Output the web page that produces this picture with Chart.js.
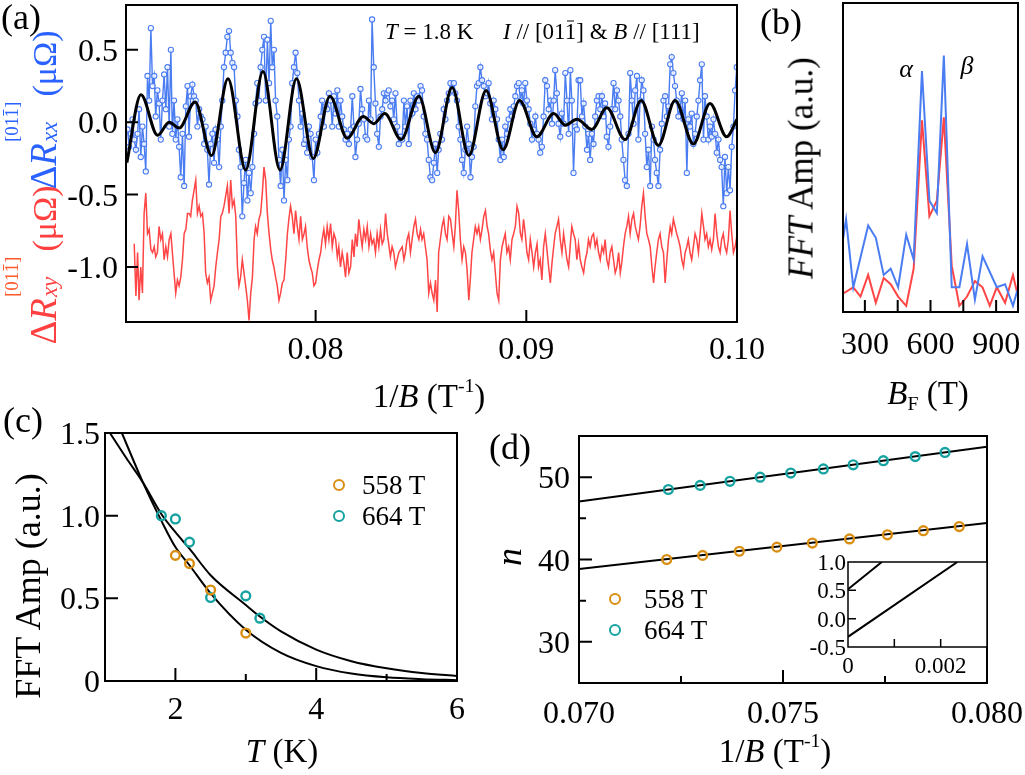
<!DOCTYPE html>
<html>
<head>
<meta charset="utf-8">
<script src="https://cdn.jsdelivr.net/npm/chart.js@4.4.1/dist/chart.umd.min.js"></script>
<style>
body{margin:0;background:#fff;}
#page{position:relative;width:1025px;height:775px;overflow:hidden;font-family:"Liberation Serif","Times New Roman",serif;}
#page canvas{position:absolute;left:0;top:0;}
.t{position:absolute;white-space:nowrap;line-height:1;transform:translate(-50%,-50%);color:#000;}
.l{position:absolute;white-space:nowrap;line-height:1;transform:translateY(-50%);color:#000;}
.tk{position:absolute;white-space:nowrap;line-height:1;color:#000;}
.r{transform:translate(-50%,-50%) rotate(-90deg);}
.sup{font-size:.6em;position:relative;top:-.75em;}
.sub{font-size:.6em;position:relative;top:.3em;}
.ob{position:relative;}
.ob::after{content:"";position:absolute;left:.08em;right:.08em;top:.1em;border-top:1.5px solid currentColor;}
.stk{display:inline-block;position:relative;width:38px;height:34px;}
.stk span.s1{position:absolute;left:1px;top:-20px;font-size:19px;line-height:1;}
.stk span.s2{position:absolute;left:1px;top:16px;font-size:23px;line-height:1;}
.dot{position:absolute;width:12px;height:12px;border-radius:50%;box-sizing:border-box;transform:translate(-50%,-50%);}
</style>
</head>
<body>
<div id="page">
<canvas id="cA" width="1025" height="775"></canvas>
<canvas id="cB" width="1025" height="775"></canvas>
<canvas id="cC" width="1025" height="775"></canvas>
<canvas id="cD" width="1025" height="775"></canvas>
<canvas id="cI" width="1025" height="775"></canvas>

<div class="t" style="left:21px;top:17px;font-size:36px">(a)</div>
<div class="l" style="left:385px;top:31px;font-size:23px"><i>T</i> = 1.8 K</div>
<div class="l" style="left:503px;top:31px;font-size:23px"><i>I</i> // [01<span class="ob">1</span>] &amp; <i>B</i> // [111]</div>
<div class="t r" style="left:42px;top:110px;font-size:34px;color:#2a62ff"><span style="font-size:37px">&Delta;<i>R</i></span><span class="stk"><span class="s1">[01<span class="ob">1</span>]</span><span class="s2"><i>xx</i></span></span> (&mu;&Omega;)</div>
<div class="t r" style="left:42px;top:265px;font-size:34px;color:#ff4040"><span style="font-size:37px">&Delta;<i>R</i></span><span class="stk"><span class="s1" style="color:#ff5a2a">[01<span class="ob">1</span>]</span><span class="s2"><i>xy</i></span></span> (&mu;&Omega;)</div>
<div class="t" style="left:429px;top:396px;font-size:33px">1/<i>B</i> (T<span class="sup">-1</span>)</div>

<div class="t" style="left:781px;top:22px;font-size:36px">(b)</div>
<div class="t r" style="left:801px;top:168px;font-size:35px"><i>FFT</i> Amp (a.u.)</div>
<div class="t" style="left:906px;top:69px;font-size:26px"><i>&alpha;</i></div>
<div class="t" style="left:967px;top:66px;font-size:26px"><i>&beta;</i></div>
<div class="t" style="left:928px;top:393px;font-size:33px"><i>B</i><span class="sub">F</span> (T)</div>

<div class="t" style="left:23px;top:420px;font-size:36px">(c)</div>
<div class="t r" style="left:28px;top:586px;font-size:36px">FFT Amp (a.u.)</div>
<div class="t" style="left:282px;top:751px;font-size:33px"><i>T</i> (K)</div>
<div class="dot" style="left:339px;top:485px;border:2.4px solid #d98e12"></div>
<div class="dot" style="left:339px;top:516px;border:2.4px solid #17a2a2"></div>
<div class="l" style="left:362px;top:485px;font-size:27px">558 T</div>
<div class="l" style="left:362px;top:516px;font-size:27px">664 T</div>

<div class="t" style="left:510px;top:447px;font-size:36px">(d)</div>
<div class="t r" style="left:509px;top:557px;font-size:36px"><i>n</i></div>
<div class="t" style="left:775px;top:751px;font-size:33px">1/<i>B</i> (T<span class="sup">-1</span>)</div>
<div class="dot" style="left:615px;top:599px;border:2.4px solid #d98e12"></div>
<div class="dot" style="left:615px;top:630px;border:2.4px solid #17a2a2"></div>
<div class="l" style="left:644px;top:599px;font-size:27px">558 T</div>
<div class="l" style="left:644px;top:630px;font-size:27px">664 T</div>
</div>

<script>
'use strict';

// (a) oscillations vs 1/B, shared x grid for both traces
const invB = [
0.07107,0.07115,0.07123,0.07131,0.07139,0.07147,0.07155,0.07162,0.07170,0.07178,
0.07186,0.07194,0.07202,0.07210,0.07218,0.07226,0.07234,0.07241,0.07249,0.07257,
0.07265,0.07273,0.07281,0.07289,0.07297,0.07305,0.07313,0.07320,0.07328,0.07336,
0.07344,0.07352,0.07360,0.07368,0.07376,0.07384,0.07392,0.07399,0.07407,0.07415,
0.07423,0.07431,0.07439,0.07447,0.07455,0.07463,0.07471,0.07478,0.07486,0.07494,
0.07502,0.07510,0.07518,0.07526,0.07534,0.07542,0.07550,0.07557,0.07565,0.07573,
0.07581,0.07589,0.07597,0.07605,0.07613,0.07621,0.07629,0.07636,0.07644,0.07652,
0.07660,0.07668,0.07676,0.07684,0.07692,0.07700,0.07708,0.07715,0.07723,0.07731,
0.07739,0.07747,0.07755,0.07763,0.07771,0.07779,0.07787,0.07794,0.07802,0.07810,
0.07818,0.07826,0.07834,0.07842,0.07850,0.07858,0.07866,0.07873,0.07881,0.07889,
0.07897,0.07905,0.07913,0.07921,0.07929,0.07937,0.07945,0.07952,0.07960,0.07968,
0.07976,0.07984,0.07992,0.08000,0.08008,0.08016,0.08024,0.08031,0.08039,0.08047,
0.08055,0.08063,0.08071,0.08079,0.08087,0.08095,0.08103,0.08110,0.08118,0.08126,
0.08134,0.08142,0.08150,0.08158,0.08166,0.08174,0.08182,0.08189,0.08197,0.08205,
0.08213,0.08221,0.08229,0.08237,0.08245,0.08253,0.08261,0.08268,0.08276,0.08284,
0.08292,0.08300,0.08308,0.08316,0.08324,0.08332,0.08340,0.08347,0.08355,0.08363,
0.08371,0.08379,0.08387,0.08395,0.08403,0.08411,0.08419,0.08426,0.08434,0.08442,
0.08450,0.08458,0.08466,0.08474,0.08482,0.08490,0.08498,0.08505,0.08513,0.08521,
0.08529,0.08537,0.08545,0.08553,0.08561,0.08569,0.08577,0.08584,0.08592,0.08600,
0.08608,0.08616,0.08624,0.08632,0.08640,0.08648,0.08656,0.08663,0.08671,0.08679,
0.08687,0.08695,0.08703,0.08711,0.08719,0.08727,0.08735,0.08742,0.08750,0.08758,
0.08766,0.08774,0.08782,0.08790,0.08798,0.08806,0.08814,0.08821,0.08829,0.08837,
0.08845,0.08853,0.08861,0.08869,0.08877,0.08885,0.08893,0.08900,0.08908,0.08916,
0.08924,0.08932,0.08940,0.08948,0.08956,0.08964,0.08972,0.08979,0.08987,0.08995,
0.09003,0.09011,0.09019,0.09027,0.09035,0.09043,0.09051,0.09058,0.09066,0.09074,
0.09082,0.09090,0.09098,0.09106,0.09114,0.09122,0.09130,0.09137,0.09145,0.09153,
0.09161,0.09169,0.09177,0.09185,0.09193,0.09201,0.09209,0.09216,0.09224,0.09232,
0.09240,0.09248,0.09256,0.09264,0.09272,0.09280,0.09288,0.09295,0.09303,0.09311,
0.09319,0.09327,0.09335,0.09343,0.09351,0.09359,0.09367,0.09374,0.09382,0.09390,
0.09398,0.09406,0.09414,0.09422,0.09430,0.09438,0.09446,0.09453,0.09461,0.09469,
0.09477,0.09485,0.09493,0.09501,0.09509,0.09517,0.09525,0.09532,0.09540,0.09548,
0.09556,0.09564,0.09572,0.09580,0.09588,0.09596,0.09604,0.09611,0.09619,0.09627,
0.09635,0.09643,0.09651,0.09659,0.09667,0.09675,0.09683,0.09690,0.09698,0.09706,
0.09714,0.09722,0.09730,0.09738,0.09746,0.09754,0.09762,0.09769,0.09777,0.09785,
0.09793,0.09801,0.09809,0.09817,0.09825,0.09833,0.09841,0.09848,0.09856,0.09864,
0.09872,0.09880,0.09888,0.09896,0.09904,0.09912,0.09920,0.09927,0.09935,0.09943,
0.09951,0.09959,0.09967,0.09975,0.09983,0.09991,0.09999];

const dRxx = [
-0.05,-0.17,-0.08,0.02,-0.12,-0.19,-0.08,0.09,-0.24,-0.03,
-0.15,-0.34,0.32,0.15,0.65,0.25,0.32,0.04,0.22,0.13,
-0.12,0.15,0.33,0.09,0.38,-0.03,0.50,-0.08,0.15,-0.12,
0.02,-0.17,-0.38,-0.08,-0.44,0.11,0.25,-0.10,0.18,0.26,
0.18,0.15,-0.03,0.09,0.04,0.02,-0.15,-0.03,-0.19,-0.43,
-0.15,-0.08,-0.28,-0.05,-0.12,-0.31,-0.03,0.15,0.38,0.48,
0.59,0.63,0.48,0.41,0.38,0.15,0.04,-0.19,-0.31,-0.65,
-0.42,-0.26,-0.54,-0.35,-0.49,-0.31,-0.08,0.13,0.27,0.15,
0.38,0.50,0.59,0.15,0.57,0.27,0.70,0.38,0.50,0.15,
0.04,-0.26,-0.44,-0.19,-0.54,-0.26,-0.40,-0.12,-0.03,0.27,
0.38,0.48,0.34,0.15,-0.03,0.06,-0.15,-0.12,-0.21,-0.03,
-0.08,-0.24,-0.40,-0.12,-0.21,-0.08,0.04,0.15,-0.03,0.11,
0.09,0.20,0.15,-0.03,0.18,0.06,0.22,-0.03,0.15,0.04,
-0.05,-0.12,-0.08,-0.15,-0.05,0.18,-0.03,-0.24,-0.12,-0.01,
0.23,0.09,0.02,-0.10,-0.12,0.15,0.02,0.71,0.38,0.13,
-0.08,-0.17,0.04,0.09,0.20,0.15,0.20,0.22,0.11,0.15,
0.02,0.20,-0.03,-0.15,-0.10,-0.12,0.15,-0.03,0.11,-0.15,
0.15,0.06,0.20,0.09,0.18,0.15,0.25,0.22,0.04,-0.08,
-0.12,-0.26,-0.38,-0.40,-0.28,-0.15,-0.35,-0.19,-0.08,-0.12,
0.09,0.02,0.15,0.20,0.27,0.22,0.27,0.20,0.15,-0.03,
-0.12,-0.26,-0.35,-0.19,-0.03,-0.15,-0.38,-0.24,-0.17,0.11,
0.25,0.27,0.38,0.29,0.25,0.18,0.20,0.27,0.13,0.02,
0.15,0.09,0.02,-0.12,-0.26,-0.12,-0.24,-0.03,-0.08,0.02,
0.09,0.04,0.11,0.18,0.25,0.27,0.15,0.22,0.13,0.27,
0.15,0.09,-0.01,-0.12,-0.05,0.04,-0.08,-0.12,-0.21,-0.17,
0.04,0.29,0.25,0.09,0.15,-0.01,0.15,0.36,0.20,-0.01,
-0.10,0.06,-0.01,0.34,0.15,-0.08,0.36,0.15,-0.35,-0.03,
-0.05,0.29,0.29,0.04,0.13,-0.03,-0.19,-0.08,-0.26,-0.08,
-0.15,0.04,0.15,0.18,0.09,0.18,0.04,0.13,-0.10,-0.17,
-0.03,0.09,0.27,0.09,0.22,0.15,0.04,-0.12,-0.26,-0.40,
-0.44,-0.08,0.34,0.15,-0.01,0.22,0.32,-0.12,0.15,0.29,
0.22,-0.08,-0.31,-0.19,-0.44,-0.03,-0.12,-0.26,-0.35,-0.44,
-0.19,-0.01,0.15,0.18,0.04,0.11,0.40,0.45,0.34,0.25,
0.15,0.04,0.09,0.20,0.02,0.15,-0.35,0.02,-0.03,0.06,
-0.15,-0.08,0.04,0.15,0.29,0.40,-0.12,0.18,0.04,-0.12,
-0.03,-0.10,0.02,-0.08,-0.21,-0.12,-0.26,-0.31,-0.58,-0.24,
-0.49,-0.31,-0.47,-0.17,-0.03,0.22,0.38];

const dRxy = [
null,null,null,null,-0.84,-1.20,-0.90,-1.23,-1.00,-1.18,
-0.63,-0.49,-0.77,-0.74,-0.88,-0.90,-0.86,-0.93,-0.90,-0.72,
-0.81,-0.77,-0.95,-0.86,-0.93,-0.81,-0.77,-0.90,-1.04,-1.18,
-1.09,-1.13,-1.07,-0.95,-0.77,-0.74,-0.63,-0.63,-0.65,-0.54,
-0.47,-0.40,-0.63,-0.58,-0.65,-0.63,-0.77,-1.04,-1.11,-1.07,
-1.23,-1.18,-1.13,-1.00,-0.90,-0.81,-0.65,-0.63,-0.58,-0.51,
-0.44,-0.63,-0.40,-0.58,-0.54,-0.65,-1.00,-1.13,-1.07,-0.95,
-1.04,-1.13,-1.23,-1.37,-1.18,-1.07,-0.81,-0.72,-0.77,-0.67,
-0.63,-0.49,-0.31,-0.40,-0.63,-0.77,-0.88,-0.95,-1.00,-1.07,
-1.13,-1.23,-1.18,-1.11,-1.09,-0.95,-0.77,-0.67,-0.58,-0.65,
-0.77,-0.61,-0.72,-0.81,-0.65,-0.81,-0.77,-0.72,-0.86,-0.95,
-1.00,-1.04,-1.13,-1.11,-1.02,-0.95,-0.90,-0.81,-0.74,-0.84,
-0.72,-0.81,-0.70,-0.86,-0.77,-0.81,-0.93,-0.86,-1.00,-0.90,
-0.97,-1.07,-0.90,-1.04,-1.00,-0.81,-0.93,-0.77,-0.86,-0.67,
-0.77,-0.86,-0.74,-0.81,-0.72,-0.86,-0.77,-0.84,-0.81,-0.90,
-0.77,-0.86,-0.74,-0.84,-0.81,-0.63,-0.77,-0.84,-0.93,-0.86,
-0.90,-1.00,-0.95,-0.90,-0.88,-0.86,-0.95,-0.90,-0.81,-0.77,
-0.90,-0.81,-0.72,-0.67,-0.77,-0.81,-0.74,-0.81,-0.77,-0.86,
-0.95,-1.18,-1.11,-1.18,-1.23,-1.09,-1.31,-0.90,-0.81,-0.72,
-0.67,-0.77,-0.81,-0.65,-0.67,-0.77,-0.86,-0.72,-0.47,-0.61,
-0.81,-0.95,-0.86,-0.90,-1.02,-1.23,-1.07,-0.90,-0.81,-0.72,
-0.77,-0.72,-0.81,-0.74,-0.65,-0.61,-0.72,-0.77,-0.88,-0.95,
-0.90,-1.04,-1.18,-1.23,-0.95,-0.86,-0.81,-0.77,-0.90,-0.86,
-0.95,-0.81,-0.77,-0.72,-0.58,-0.63,-0.77,-0.81,-0.67,-0.77,
-0.90,-0.95,-0.81,-0.90,-1.00,-0.90,-0.84,-1.00,-0.95,-1.09,
-0.86,-0.77,-0.88,-1.00,-1.11,-0.97,-0.86,-0.77,-0.72,-0.67,
-0.81,-0.90,-0.77,-0.86,-0.95,-1.00,-0.84,-0.72,-0.77,-0.81,
-0.95,-0.84,-0.95,-1.00,-1.04,-0.95,-0.90,-0.81,-0.86,-0.79,
-0.77,-0.86,-0.81,-0.90,-0.95,-0.86,-0.90,-0.81,-0.95,-1.00,
-0.90,-0.86,-0.95,-1.04,-1.00,-0.90,-1.04,-0.97,-0.86,-0.77,
-0.72,-0.65,-0.77,-0.67,-0.63,-0.72,-0.77,-0.81,-0.72,-0.58,
-0.49,-0.65,-0.77,-0.81,-0.86,-1.00,-1.11,-1.00,-0.90,-0.81,
-0.77,-0.86,-0.90,-1.11,-0.95,-0.81,-0.72,-0.77,-0.67,-0.72,
-0.77,-0.81,-0.86,-0.95,-1.00,-0.90,-0.86,-0.81,-0.90,-0.95,
-0.86,-0.77,-0.81,-0.90,-0.77,-0.63,-0.72,-0.81,-0.77,-0.86,
-0.81,-0.88,-0.81,-0.63,-0.77,-0.86,-0.90,-0.81,-0.77,-0.86,
-0.90,-0.81,-0.61,-0.77,-0.90,-0.86,-0.79];

// two-frequency fit (turning points)
const fitX = [0.07104,0.07171,0.07250,0.07305,0.07352,0.07428,0.07506,0.07584,0.07668,0.07750,
  0.07831,0.07909,0.07989,0.08068,0.08150,0.08226,0.08276,0.08328,0.08406,0.08490,
  0.08569,0.08648,0.08727,0.08809,0.08890,0.08968,0.09050,0.09130,0.09185,0.09240,
  0.09311,0.09382,0.09469,0.09545,0.09627,0.09706,0.09793,0.09872,0.09951,0.10000];
const fitY = [-0.28,0.19,-0.09,0.00,-0.04,0.14,-0.23,0.30,-0.33,0.35,
  -0.33,0.30,-0.25,0.18,-0.11,0.04,-0.01,0.06,-0.12,0.18,
  -0.21,0.24,-0.23,0.22,-0.19,0.15,-0.10,0.06,-0.02,0.02,
  -0.05,0.10,-0.12,0.15,-0.16,0.15,-0.15,0.13,-0.10,0.02];

// (b) FFT spectra
const bfBlue = [201,214,247,315,350,386,418,452,489,523,561,595,629,661,697,732,767,803,838,903,941,977,997];
const ampBlue = [0.24,0.30,0.08,0.28,0.24,0.12,0.14,0.08,0.25,0.17,0.78,0.36,0.32,0.83,0.08,0.08,0.22,0.04,0.18,0.08,0.09,0.02,0.07];
const bfRed = [201,247,280,315,350,386,418,452,489,523,561,595,629,661,697,732,767,803,838,871,903,941,977,997];
const ampRed = [0.06,0.08,0.05,0.12,0.03,0.11,0.09,0.05,0.02,0.14,0.62,0.31,0.36,0.63,0.15,0.02,0.05,0.10,0.08,0.02,0.08,0.03,0.12,0.06];

// (c) temperature dependence
const tempA = [2.0,2.2,2.5,3.0];
const ampA = [0.76,0.71,0.55,0.29];
const tempB = [1.8,2.0,2.2,2.5,3.0,3.2];
const ampB = [1.00,0.98,0.84,0.505,0.515,0.38];
const lkTA = [1.24,1.54,1.8,2.0,2.2,2.5,3.0,3.5,4.0,4.5,5.0,5.5,6.0];
const lkA = [1.50,1.20,0.97,0.81,0.70,0.53,0.31,0.17,0.09,0.045,0.022,0.011,0.005];
const lkTB = [1.07,1.3,1.54,1.8,2.0,2.2,2.5,3.0,3.2,3.5,4.0,4.5,5.0,5.5,6.0];
const lkB = [1.50,1.35,1.20,1.01,0.90,0.80,0.64,0.46,0.39,0.30,0.19,0.12,0.077,0.048,0.03];

// (d) Landau fan
const invBA = [0.07215,0.07303,0.07393,0.07485,0.07572,0.07663,0.07756,0.07844,0.07932];
const nA = [40,40.5,41,41.5,42,42.5,43,43.5,44];
const invBB = [0.07219,0.07297,0.07370,0.07444,0.07519,0.07599,0.07672,0.07746,0.07824,0.07897];
const nB = [48.5,49,49.5,50,50.5,51,51.5,52,52.5,53];
const fanX = [0.070,0.080];
const fanA = [38.85,44.43];
const fanB = [47.05,53.69];
const insetXA = [0,0.00236];
const insetA = [-0.32,1.0];
const insetXB = [0,0.00073];
const insetB = [0.52,1.0];

// tick labels
const aXTicks = [0.08,0.09,0.10];
const aYTicks = [0.5,0,-0.5,-1.0];
const bXTicks = [300,600,900];
const cXTicks = [2,4,6];
const cYTicks = [0,0.5,1.0,1.5];
const dXTicks = [0.070,0.075,0.080];
const dYTicks = [30,40,50];
const iXTicks = [0,0.002];
const iYTicks = [-0.5,0,0.5,1.0];

const BLUE = '#4a7cf2', RED = '#ff4545', TEAL = '#17a2a2', ORANGE = '#d98e12';

const pts = (xs, ys) => xs.map((x, i) => ({x: x, y: ys[i]}));

// box + inward ticks
const frame = {
  id: 'frame',
  beforeDatasetsDraw(chart, args, o) {
    if (!o.fill) return;
    const a = chart.chartArea;
    chart.ctx.save();
    chart.ctx.fillStyle = '#fff';
    chart.ctx.fillRect(a.left, a.top, a.right - a.left, a.bottom - a.top);
    chart.ctx.restore();
  },
  afterDatasetsDraw(chart, args, o) {
    const ctx = chart.ctx, a = chart.chartArea;
    ctx.save();
    ctx.strokeStyle = '#000';
    ctx.lineWidth = o.lw || 2;
    ctx.strokeRect(a.left, a.top, a.right - a.left, a.bottom - a.top);
    ctx.beginPath();
    (o.x || []).forEach(t => {
      const p = chart.scales.x.getPixelForValue(t[0]);
      ctx.moveTo(p, a.bottom); ctx.lineTo(p, a.bottom - t[1]);
    });
    (o.y || []).forEach(t => {
      const p = chart.scales.y.getPixelForValue(t[0]);
      ctx.moveTo(a.left, p); ctx.lineTo(a.left + t[1], p);
    });
    ctx.stroke();
    ctx.restore();
  }
};

// tick labels as page text, placed from the chart's own scales
function tickText(spec) {
  const made = [];
  return {
    id: 'tickText',
    afterDraw(chart) {
      made.forEach(el => el.remove());
      made.length = 0;
      const page = document.getElementById('page'), a = chart.chartArea;
      const add = (txt, x, y, tf, size) => {
        const d = document.createElement('div');
        d.className = 'tk';
        d.textContent = txt;
        d.style.left = x + 'px';
        d.style.top = y + 'px';
        d.style.fontSize = size + 'px';
        d.style.transform = tf;
        page.appendChild(d);
        made.push(d);
      };
      if (spec.x) spec.x.v.forEach(v => add(spec.x.f(v), chart.scales.x.getPixelForValue(v),
        a.bottom + spec.x.pad, 'translate(-50%,0)', spec.x.size));
      if (spec.y) spec.y.v.forEach(v => add(spec.y.f(v), a.left - spec.y.pad,
        chart.scales.y.getPixelForValue(v), 'translate(-100%,-50%)', spec.y.size));
    }
  };
}

function area(L, T, R, B) {
  return {autoPadding: false, padding: {left: L - 60, top: T, right: 1025 - R, bottom: 775 - B - 60}};
}

function axis(horiz, min, max) {
  return {
    type: 'linear', position: horiz ? 'bottom' : 'left', min: min, max: max,
    afterFit: s => { if (horiz) s.height = 60; else s.width = 60; },
    grid: {display: false, drawTicks: false}, border: {display: false},
    ticks: {display: false}
  };
}

function make(id, L, T, R, B, xs, ys, datasets, fr, labels) {
  return new Chart(document.getElementById(id), {
    type: 'scatter',
    data: {datasets: datasets},
    options: {
      responsive: false, animation: false, devicePixelRatio: 1,
      layout: area(L, T, R, B),
      scales: {x: xs, y: ys},
      plugins: {legend: {display: false}, tooltip: {enabled: false}, frame: fr}
    },
    plugins: [frame, tickText(labels)]
  });
}

const ring = c => ({showLine: false, pointRadius: 4.4, pointBorderWidth: 2.4,
  pointBorderColor: c, pointBackgroundColor: 'rgba(0,0,0,0)'});

// (a)
make('cA', 126, 5, 737, 322, axis(true, 0.0710, 0.1000), axis(false, -1.38, 0.81),
  [
    {data: pts(fitX, fitY), showLine: true, borderColor: '#000', borderWidth: 3,
      pointRadius: 0, cubicInterpolationMode: 'monotone', order: 0},
    {data: pts(invB, dRxx), showLine: true, borderColor: BLUE, borderWidth: 1.4,
      pointRadius: 2.6, pointBorderWidth: 1.1, pointBorderColor: BLUE,
      pointBackgroundColor: 'rgba(255,255,255,0.75)', order: 1},
    {data: pts(invB, dRxy), showLine: true, spanGaps: false, borderColor: RED,
      borderWidth: 1.5, pointRadius: 0, order: 2}
  ],
  {lw: 2, x: [[0.08, 12], [0.09, 12]], y: [[0.5, 12], [0, 12], [-0.5, 12], [-1.0, 12]]},
  {x: {v: aXTicks, f: v => v.toFixed(2), size: 32, pad: 10},
   y: {v: aYTicks, f: v => v.toFixed(1), size: 32, pad: 8}});

// (b)
make('cB', 843, 3, 1018, 312, axis(true, 200, 1000), axis(false, 0, 1),
  [
    {data: pts(bfBlue, ampBlue), showLine: true, borderColor: BLUE, borderWidth: 2, pointRadius: 0},
    {data: pts(bfRed, ampRed), showLine: true, borderColor: RED, borderWidth: 2, pointRadius: 0}
  ],
  {lw: 2, x: [[300, 12], [450, 12], [600, 12], [750, 12], [900, 12]]},
  {x: {v: bXTicks, f: v => String(v), size: 32, pad: 15}});

// (c)
make('cC', 105, 433, 457, 681, axis(true, 1, 6), axis(false, 0, 1.5),
  [
    Object.assign({data: pts(tempA, ampA)}, ring(ORANGE)),
    Object.assign({data: pts(tempB, ampB)}, ring(TEAL)),
    {data: pts(lkTA, lkA), showLine: true, borderColor: '#000', borderWidth: 2,
      pointRadius: 0, cubicInterpolationMode: 'monotone'},
    {data: pts(lkTB, lkB), showLine: true, borderColor: '#000', borderWidth: 2,
      pointRadius: 0, cubicInterpolationMode: 'monotone'}
  ],
  {lw: 2, x: [[2, 13], [3, 7], [4, 13], [5, 7]], y: [[0.5, 13], [1.0, 13]]},
  {x: {v: cXTicks, f: v => String(v), size: 32, pad: 11},
   y: {v: cYTicks, f: v => v === 0 ? '0' : v.toFixed(1), size: 32, pad: 5}});

// (d)
make('cD', 579, 436, 987, 683, axis(true, 0.070, 0.080), axis(false, 25, 55),
  [
    Object.assign({data: pts(invBA, nA)}, ring(ORANGE)),
    Object.assign({data: pts(invBB, nB)}, ring(TEAL)),
    {data: pts(fanX, fanA), showLine: true, borderColor: '#000', borderWidth: 2, pointRadius: 0},
    {data: pts(fanX, fanB), showLine: true, borderColor: '#000', borderWidth: 2, pointRadius: 0}
  ],
  {lw: 2, x: [[0.0725, 7], [0.075, 13], [0.0775, 7]],
    y: [[30, 13], [35, 7], [40, 13], [45, 7], [50, 13]]},
  {x: {v: dXTicks, f: v => v.toFixed(3), size: 32, pad: 13},
   y: {v: dYTicks, f: v => String(v), size: 32, pad: 9}});

// (d) inset
make('cI', 848, 562, 987, 647, axis(true, 0, 0.003), axis(false, -0.5, 1.0),
  [
    {data: pts(insetXA, insetA), showLine: true, borderColor: '#000', borderWidth: 2, pointRadius: 0},
    {data: pts(insetXB, insetB), showLine: true, borderColor: '#000', borderWidth: 2, pointRadius: 0}
  ],
  {lw: 1.5, fill: true, x: [[0.001, 8], [0.002, 8]], y: [[0, 8], [0.5, 8]]},
  {x: {v: iXTicks, f: v => v === 0 ? '0' : v.toFixed(3), size: 23, pad: 7},
   y: {v: iYTicks, f: v => v.toFixed(1), size: 23, pad: 2}});
</script>
</body>
</html>
